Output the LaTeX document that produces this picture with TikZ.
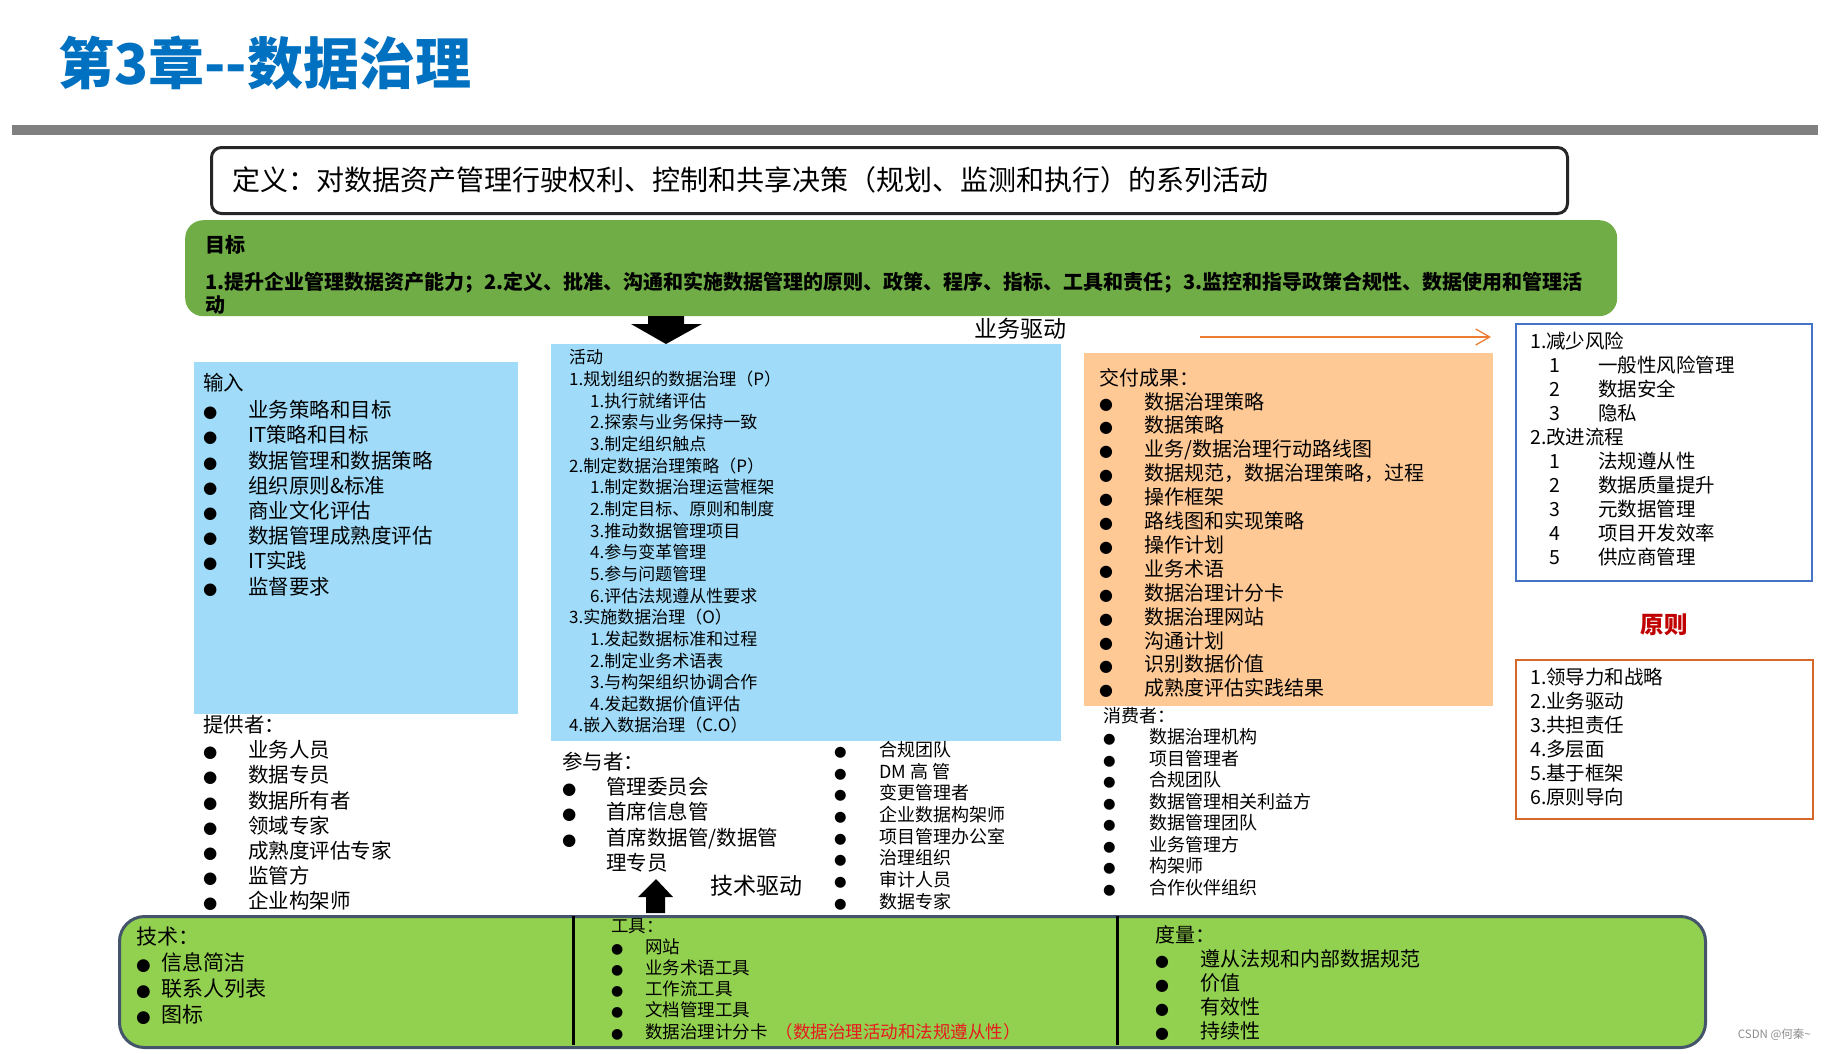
\documentclass[tikz,border=0pt]{standalone}
\usepackage{fontspec}
\setmainfont{Noto Sans CJK SC}
\newfontfamily\dejavu{DejaVu Sans}
\usetikzlibrary{arrows.meta}

\definecolor{titleblue}{HTML}{0070C0}
\definecolor{bargray}{HTML}{808080}
\definecolor{goalgreen}{HTML}{70AD47}
\definecolor{lightblue}{RGB}{160,220,250}
\definecolor{outorange}{RGB}{255,201,150}
\definecolor{botgreen}{HTML}{92D050}
\definecolor{slate}{HTML}{44546A}
\definecolor{riskblue}{HTML}{4472C4}
\definecolor{princorange}{HTML}{D4692A}
\definecolor{drvorange}{HTML}{ED7D31}
\definecolor{darkred}{HTML}{C00000}
\definecolor{toolred}{HTML}{E8191E}

\newcommand\bul{{\dejavu\fontsize{0.8em}{1em}\selectfont ●}}
\newcommand\bi[1][45pt]{\makebox[#1][l]{\bul}}
\newcommand\fs[2]{\fontsize{#1}{#2}\selectfont}

\begin{document}
\begin{tikzpicture}[x=1pt,y=-1pt]
\tikzstyle{panel}=[anchor=north west,inner sep=0pt]
\tikzstyle{list text}=[anchor=north west,inner sep=0pt,align=left]
\tikzstyle{line text}=[anchor=west,inner sep=0pt]

\useasboundingbox (0,0) rectangle (1833,1053);

% titulo
\node[line text,font=\fs{56}{56}\bfseries,text=titleblue] (title) at (58,63) {第3章-{}-数据治理};
\fill[bargray] (12,125) rectangle (1818,135);

% definicion y objetivos
\node[panel,draw=black!85,line width=3pt,rounded corners=10pt,minimum width=1356pt,minimum height=66pt] (defbox) at (210,146) {};
\node[line text,font=\fs{28}{28}] (deftext) at (232,180) {定义：对数据资产管理行驶权利、控制和共享决策（规划、监测和执行）的系列活动};

\node[panel,fill=goalgreen,rounded corners=18pt,minimum width=1432pt,minimum height=96pt] (goalbox) at (185,220) {};
\node[line text,font=\fs{20}{23}\bfseries] (goalhead) at (205,245) {目标};
\node[list text,font=\fs{20}{23}\bfseries] (goaltext) at (205,272) {1.提升企业管理数据资产能力；2.定义、批准、沟通和实施数据管理的原则、政策、程序、指标、工具和责任；3.监控和指导政策合规性、数据使用和管理活\\动};

% flecha de bloque hacia abajo
\fill (648,316) -- (684,316) -- (684,324) -- (702,324) -- (666,344) -- (631,324) -- (648,324) -- cycle;

\node[font=\fs{23}{23},inner sep=0pt] (bizdrive) at (1020,329) {业务驱动};
\coordinate (drv a) at (1200,337);
\coordinate (drv b) at (1491,337);
\draw[drvorange,line width=1.3pt,-{Straight Barb[length=14pt,width=16pt]}] (drv a) -- (drv b);

% cajas de colores
\node[panel,fill=lightblue,minimum width=324pt,minimum height=352pt] (inbox) at (194,362) {};
\node[panel,fill=lightblue,minimum width=510pt,minimum height=397pt] (actbox) at (551,344) {};
\node[panel,fill=outorange,minimum width=409pt,minimum height=353pt] (outbox) at (1084,353) {};
\node[panel,draw=riskblue,line width=2pt,minimum width=296pt,minimum height=257pt] (riskbox) at (1515,323) {};
\node[panel,draw=princorange,line width=2pt,minimum width=297pt,minimum height=159pt] (princbox) at (1515,659) {};
\node[panel,fill=botgreen,draw=slate,line width=3pt,rounded corners=25pt,minimum width=1586pt,minimum height=131pt] (botbox) at (118,915) {};
\draw[line width=3pt] (573,916) -- (573,1045);
\draw[line width=3pt] (1117,916) -- (1117,1045);

% entradas
\node[list text,font=\fs{20.5}{25.2}] (inlist) at (203,373) {输入\\[2pt]
\bi 业务策略和目标\\
\bi IT策略和目标\\
\bi 数据管理和数据策略\\
\bi 组织原则\&标准\\
\bi 商业文化评估\\
\bi 数据管理成熟度评估\\
\bi IT实践\\
\bi 监督要求};

\node[list text,font=\fs{20.5}{25.2}] (provlist) at (203,715) {提供者：\\
\bi 业务人员\\
\bi 数据专员\\
\bi 数据所有者\\
\bi 领域专家\\
\bi 成熟度评估专家\\
\bi 监管方\\
\bi 企业构架师};

% actividades
\node[list text,font=\fs{17}{21.65}] (actlist) at (569,349.5) {活动\\
1.规划组织的数据治理（P）\\
\hspace*{21pt}1.执行就绪评估\\
\hspace*{21pt}2.探索与业务保持一致\\
\hspace*{21pt}3.制定组织触点\\
2.制定数据治理策略（P）\\
\hspace*{21pt}1.制定数据治理运营框架\\
\hspace*{21pt}2.制定目标、原则和制度\\
\hspace*{21pt}3.推动数据管理项目\\
\hspace*{21pt}4.参与变革管理\\
\hspace*{21pt}5.参与问题管理\\
\hspace*{21pt}6.评估法规遵从性要求\\
3.实施数据治理（O）\\
\hspace*{21pt}1.发起数据标准和过程\\
\hspace*{21pt}2.制定业务术语表\\
\hspace*{21pt}3.与构架组织协调合作\\
\hspace*{21pt}4.发起数据价值评估\\
4.嵌入数据治理（C.O）};

% participantes
\node[list text,font=\fs{20.5}{25.2}] (partlist) at (562,752) {参与者：\\
\bi[44pt]管理委员会\\
\bi[44pt]首席信息管\\
\bi[44pt]首席数据管/数据管\\
\hspace*{44pt}理专员};

\node[list text,font=\fs{18}{21.7}] (partlist2) at (834,741) {\bi 合规团队\\
\bi DM 高 管\\
\bi 变更管理者\\
\bi 企业数据构架师\\
\bi 项目管理办公室\\
\bi 治理组织\\
\bi 审计人员\\
\bi 数据专家};

\node[font=\fs{23}{23},inner sep=0pt] (techdrive) at (756,886) {技术驱动};
\fill (646,913) -- (665,913) -- (665,897) -- (673,897) -- (656,879) -- (638,897) -- (646,897) -- cycle;

% entregables
\node[list text,font=\fs{20}{23.9}] (outlist) at (1099,368) {交付成果：\\
\bi 数据治理策略\\
\bi 数据策略\\
\bi 业务/数据治理行动路线图\\
\bi 数据规范，数据治理策略，过程\\
\bi 操作框架\\
\bi 路线图和实现策略\\
\bi 操作计划\\
\bi 业务术语\\
\bi 数据治理计分卡\\
\bi 数据治理网站\\
\bi 沟通计划\\
\bi 识别数据价值\\
\bi 成熟度评估实践结果};

\node[list text,font=\fs{18}{21.5}] (conslist) at (1103,707) {消费者：\\
\bi[46pt]数据治理机构\\
\bi[46pt]项目管理者\\
\bi[46pt]合规团队\\
\bi[46pt]数据管理相关利益方\\
\bi[46pt]数据管理团队\\
\bi[46pt]业务管理方\\
\bi[46pt]构架师\\
\bi[46pt]合作伙伴组织};

% lado derecho
\node[list text,font=\fs{19.5}{24}] (risklist) at (1530,332) {1.减少风险\\
\hspace*{19pt}\makebox[49pt][l]{1}一般性风险管理\\
\hspace*{19pt}\makebox[49pt][l]{2}数据安全\\
\hspace*{19pt}\makebox[49pt][l]{3}隐私\\
2.改进流程\\
\hspace*{19pt}\makebox[49pt][l]{1}法规遵从性\\
\hspace*{19pt}\makebox[49pt][l]{2}数据质量提升\\
\hspace*{19pt}\makebox[49pt][l]{3}元数据管理\\
\hspace*{19pt}\makebox[49pt][l]{4}项目开发效率\\
\hspace*{19pt}\makebox[49pt][l]{5}供应商管理};

\node[font=\fs{23.5}{23.5}\bfseries,text=darkred,inner sep=0pt] (princhead) at (1664,625) {原则};

\node[list text,font=\fs{19.5}{24}] (princlist) at (1530,668) {1.领导力和战略\\
2.业务驱动\\
3.共担责任\\
4.多层面\\
5.基于框架\\
6.原则导向};

% franja inferior
\node[list text,font=\fs{21}{26}] (techlist) at (136,926.5) {技术：\\
\bi[25pt]信息简洁\\
\bi[25pt]联系人列表\\
\bi[25pt]图标};

\node[list text,font=\fs{17.5}{21.2}] (toollist) at (611,918) {工具：\\
\bi[34pt]网站\\
\bi[34pt]业务术语工具\\
\bi[34pt]工作流工具\\
\bi[34pt]文档管理工具\\
\bi[34pt]数据治理计分卡\hspace{8pt}\textcolor{toolred}{（数据治理活动和法规遵从性）}};

\node[list text,font=\fs{20}{24.2}] (metlist) at (1155,925) {度量：\\
\bi 遵从法规和内部数据规范\\
\bi 价值\\
\bi 有效性\\
\bi 持续性};

\node[anchor=east,inner sep=0pt,font=\fs{11.5}{11.5},text=black!45] (mark) at (1811,1035) {CSDN @何秦\textasciitilde};
\end{tikzpicture}
\end{document}
